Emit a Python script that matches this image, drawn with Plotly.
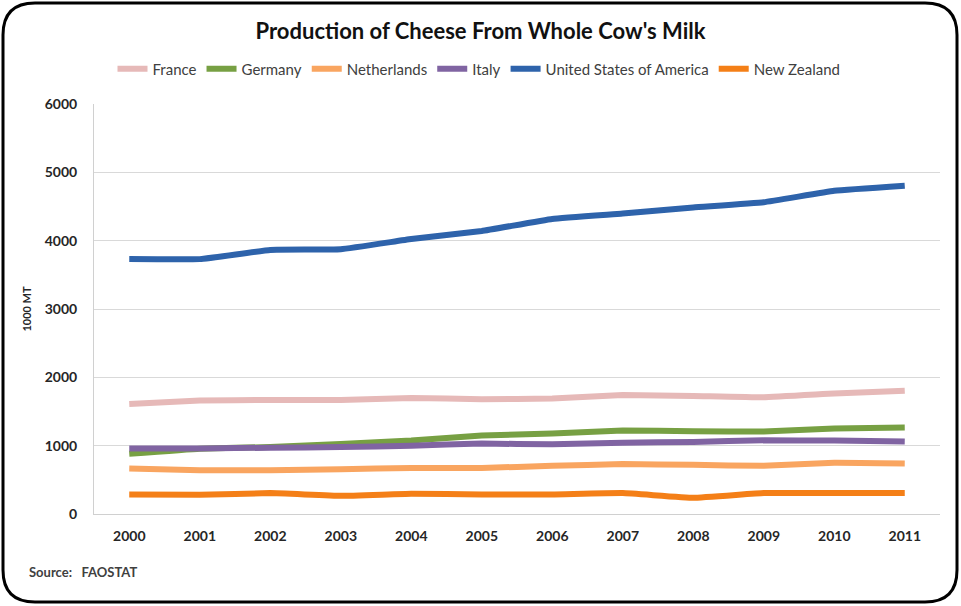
import plotly.graph_objects as go

years = ["2000", "2001", "2002", "2003", "2004", "2005",
         "2006", "2007", "2008", "2009", "2010", "2011"]

france = [1610, 1660, 1668, 1668, 1698, 1680, 1690, 1740, 1728, 1708, 1762, 1805]
germany = [882, 956, 980, 1025, 1074, 1148, 1177, 1221, 1211, 1206, 1251, 1266]
netherlands = [665, 640, 640, 655, 675, 675, 705, 730, 720, 705, 750, 740]
italy = [960, 960, 970, 980, 1000, 1030, 1020, 1044, 1055, 1078, 1074, 1060]
usa = [3730, 3730, 3865, 3875, 4023, 4141, 4318, 4397, 4485, 4563, 4730, 4804]
new_zealand = [287, 281, 306, 266, 296, 287, 287, 306, 237, 306, 306, 306]

series = [
    ("France", france, "#e6b9b8"),
    ("Germany", germany, "#77a043"),
    ("Netherlands", netherlands, "#f9a560"),
    ("Italy", italy, "#8064a2"),
    ("United States of America", usa, "#2e63ab"),
    ("New Zealand", new_zealand, "#f47f17"),
]

W, H = 961, 606
ML, MR, MT, MB = 94, 21, 104, 92
PW, PH = W - ML - MR, H - MT - MB


def px(x):
    return (x - ML) / PW


def py(y):
    return (H - MB - y) / PH


fig = go.Figure()
for name, vals, col in series:
    fig.add_trace(go.Scatter(x=years, y=vals, name=name, mode="lines",
                             line=dict(color=col, width=6, shape="spline", smoothing=0.3)))

# rounded frame around the whole chart
x0, x1, y0, y1, r = 3, 957, 3, 602, 32
frame = (f"M{px(x0 + r)},{py(y0)} L{px(x1 - r)},{py(y0)} "
         f"Q{px(x1)},{py(y0)} {px(x1)},{py(y0 + r)} "
         f"L{px(x1)},{py(y1 - r)} Q{px(x1)},{py(y1)} {px(x1 - r)},{py(y1)} "
         f"L{px(x0 + r)},{py(y1)} Q{px(x0)},{py(y1)} {px(x0)},{py(y1 - r)} "
         f"L{px(x0)},{py(y0 + r)} Q{px(x0)},{py(y0)} {px(x0 + r)},{py(y0)} Z")
fig.add_shape(type="path", xref="paper", yref="paper", path=frame,
              line=dict(color="black", width=3))

fig.add_annotation(text="<b>Source:   FAOSTAT</b>", xref="paper", yref="paper",
                   x=px(27), y=py(572), xanchor="left", yanchor="middle",
                   showarrow=False, font=dict(size=13, color="#404040"))

fig.update_layout(
    width=W, height=H,
    margin=dict(l=ML, r=MR, t=MT, b=MB),
    paper_bgcolor="white", plot_bgcolor="white",
    font=dict(family="Lato", color="#404040"),
    title=dict(text="<b>Production of Cheese From Whole Cow's Milk</b>",
               x=0.5, xanchor="center", y=1 - 31 / H, yanchor="middle",
               font=dict(size=22, color="#111111")),
    legend=dict(orientation="h", x=px(479), xanchor="center", y=py(69), yanchor="middle",
                font=dict(size=15, color="#404040"), itemwidth=30, tracegroupgap=0),
    showlegend=True,
)
fig.update_xaxes(type="category", range=[-0.5, 11.5], automargin=False,
                 showgrid=False, showline=True, linecolor="#d0d0d0",
                 linewidth=1, ticks="", ticklabelstandoff=9,
                 tickfont=dict(size=14, color="#262626", family="Lato"),
                 tickprefix="<b>", ticksuffix="</b>")
fig.update_yaxes(range=[0, 6000], dtick=1000, automargin=False,
                 showgrid=True, gridcolor="#d9d9d9",
                 showline=True, linecolor="#d0d0d0", linewidth=1, zeroline=False,
                 ticks="", ticklabelstandoff=13,
                 tickfont=dict(size=14, color="#262626", family="Lato"),
                 tickprefix="<b>", ticksuffix="</b>",
                 title=dict(text="<b>1000 MT</b>", standoff=10,
                            font=dict(size=11, color="#262626")))

fig.write_html("out.html", config={"displayModeBar": False},
               post_script="document.body.style.margin = '0';")
